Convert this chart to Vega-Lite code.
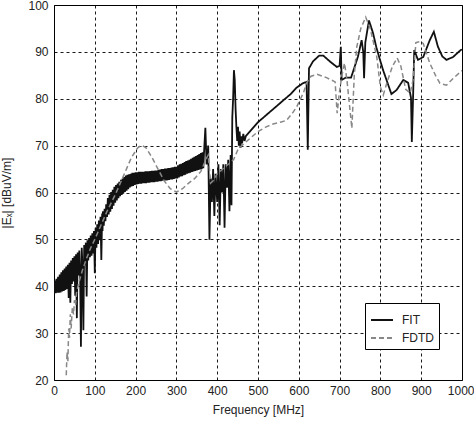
{
"$schema": "https://vega.github.io/schema/vega-lite/v6.json",
"width": 408, "height": 375,
"autosize": {"type": "none"},
"padding": {"left": 54, "top": 5, "right": 12, "bottom": 47},
"background": "white",
"config": {"view": {"stroke": "#000", "strokeWidth": 1}, "font": "Liberation Sans"},
"datasets": {
"fit": [
[0,38.5],[2,41.2],[4,38.5],[6,41.6],[8,38.6],[10,42.0],[12,38.6],[14,42.5],[16,38.7],[18,43.0],[20,38.9],[22,43.4],[24,39.0],[26,43.8],[28,39.2],[30,44.2],[32,39.4],[34,44.6],[36,37.5],[38,45.0],[40,36.5],[42,45.5],[44,40.5],[46,46.0],[48,41.0],[50,46.4],[52,38.0],[54,46.8],[56,33.2],[58,47.2],[60,42.3],[62,47.6],[64,42.5],[66,27.1],[68,48.2],[70,43.8],[72,30.6],[74,48.8],[76,44.5],[78,49.3],[80,37.8],[82,49.8],[84,45.5],[86,50.3],[88,46.2],[90,50.8],[92,46.5],[94,51.3],[96,47.0],[98,51.8],[100,42.8],[102,52.5],[104,48.2],[106,53.2],[108,49.0],[110,54.0],[112,49.8],[114,54.8],[116,45.6],[118,55.5],[119,51.8],
[120,56.0],[122,52.9],[124,56.5],[126,53.9],[128,57.5],[130,54.8],[132,58.8],[134,55.3],[136,59.5],[138,55.9],[140,60.1],[142,56.5],[144,60.6],[146,57.2],[148,61.2],[150,57.8],[152,61.6],[154,58.3],[156,61.9],[158,58.8],[160,62.3],[162,59.2],[164,62.7],[166,59.5],[168,63.0],[170,59.8],[172,63.3],[174,60.1],[176,63.6],[178,60.4],[180,63.8],[182,60.7],[184,63.9],[186,61.1],[188,64.0],[190,61.3],[192,64.2],[194,61.4],[196,64.2],[198,61.6],[200,64.3],[202,61.7],[204,64.3],[206,61.8],[208,64.4],[210,61.9],[212,64.4],[214,61.9],[216,64.4],[218,62.0],[220,64.4],[222,62.0],[224,64.5],[226,62.0],[228,64.5],[230,62.1],[232,64.5],[234,62.1],[236,64.6],[238,62.2],[240,64.6],[242,62.2],[244,64.6],[246,62.2],[248,64.7],[250,62.3],[252,64.7],[254,62.3],[256,64.8],[258,62.4],[260,64.9],[262,62.4],[264,65.0],[266,62.5],[268,65.0],[270,62.5],[272,65.1],[274,62.6],[276,65.1],[278,62.6],[280,65.2],[282,62.7],[284,65.2],[286,62.8],[288,65.3],[290,62.8],[292,65.4],[294,62.9],[296,65.5],[298,63.0],[300,65.5],[302,63.0],[304,65.8],[306,63.2],[308,66.0],[310,63.4],[312,66.1],[314,63.5],[316,66.3],[318,63.7],[320,66.5],[322,63.8],[324,66.7],[326,64.0],[328,66.8],[330,64.1],[332,67.0],[334,64.2],[336,67.2],[338,64.4],[340,67.4],[342,64.5],[344,67.6],[346,64.6],[348,67.8],[350,64.7],[352,68.0],[354,64.8],[356,68.2],[358,64.9],[360,68.4],[362,65.0],[364,68.6],[366,65.2],[368,69.0],
[371,73.8],[374,66],[378,70],[381,49.9],[384,63],[387,58],[390,65],[393,55],[396,64],[400,58],[403,66],[406,53],[409,65],[412,60],[415,66],[418,52.5],[421,66],[424,61],[427,67],[430,56],[433,68],[435,57.3],[437,76],[439,80],[441,86.1],[443,84],[445,78],[447,74],[449,71],[451,74],[453,70],[455,73],[457,69.5],[459,72],[461,70.5],[464,72.5],[467,71],[470,72],[480,73],[490,74],[500,75],[520,76.5],[540,78],[560,79.5],[580,81],[595,82.4],[610,83.3],[619,83.6],[622,69.1],[625,86.5],[635,88],[650,89.2],[660,89.2],[677,87.9],[693,86.8],[700,87],[703,91.1],[705,84],[715,84.5],[728,84.5],[733,85.8],[745,89],[754,92.5],[758,90],[760,84.4],[763,92],[772,96.7],[782,94],[790,91],[799,88.3],[807,86],[815,84],[827,81],[840,81.9],[856,84],[868,83.4],[875,80.2],[877,70.8],[880,80],[883,90.4],[892,88.3],[905,88.9],[921,92.5],[931,94.3],[941,91.1],[952,89],[962,88.3],[978,88.9],[997,90.4],[1000,90.5]
],
"fdtd": [
[30,21],[32,26],[34,24],[36,31],[38,29],[40,34],[42,31],[45,35.5],[48,34],[50,37],[53,36],[55,38.5],[60,40.5],[70,43.5],[80,46],[90,48.2],[100,50],[115,53],[130,56],[150,59.5],[170,63.5],[190,67.5],[205,69.5],[215,70.1],[225,69.6],[240,67.5],[255,65],[270,62.5],[285,60.8],[300,60.1],[315,60.8],[330,62],[345,63],[360,64.5],[372,67],[378,68],[384,62],[390,62.5],[400,64],[420,65.5],[440,67],[450,69],[460,70],[480,71.5],[500,73],[520,74],[537,74.6],[555,75],[570,75.4],[585,77],[595,78.3],[611,81.2],[620,83.5],[630,84.8],[645,85.2],[668,84.5],[689,83.6],[694,76.9],[699,81],[705,84.7],[712,87.6],[718,84],[725,78],[730,73.7],[736,85],[742,91],[752,95],[764,97.4],[775,95],[791,89],[800,82.5],[807,80.8],[818,84],[830,87],[841,88.7],[850,87],[862,82],[873,81.2],[880,84],[887,92],[897,92.2],[905,91.8],[921,87.6],[935,85],[946,83.3],[962,82.9],[978,84.3],[997,85.8],[1000,86]
]
},
"layer": [
{
"data": {"name": "fit"},
"transform": [{"calculate": "datum[0]", "as": "f"}, {"calculate": "datum[1]", "as": "e"}, {"calculate": "'FIT'", "as": "s"}],
"mark": {"type": "line", "strokeWidth": 1.8, "clip": true},
"encoding": {}
},
{
"data": {"name": "fdtd"},
"transform": [{"calculate": "datum[0]", "as": "f"}, {"calculate": "datum[1]", "as": "e"}, {"calculate": "'FDTD'", "as": "s"}],
"mark": {"type": "line", "strokeWidth": 1.5, "clip": true},
"encoding": {}
}
],
"encoding": {
"x": {"field": "f", "type": "quantitative", "scale": {"domain": [0, 1000], "nice": false},
"axis": {"values": [0,100,200,300,400,500,600,700,800,900,1000], "format": "d", "title": "Frequency [MHz]", "grid": true, "gridDash": [3,3], "gridColor": "#000", "gridOpacity": 0.9, "ticks": false, "domain": false, "labelFontSize": 12, "labelColor": "#222", "labelPadding": 5, "titleFontSize": 12, "titleFontWeight": "normal", "titleColor": "#222", "titlePadding": 8, "labelFlush": false,
"labelAlign": {"condition": {"test": "datum.value == 1000", "value": "right"}, "value": "center"},
"labelOffset": {"condition": {"test": "datum.value == 1000", "value": 12}, "value": 0}}},
"y": {"field": "e", "type": "quantitative", "scale": {"domain": [20, 100], "nice": false, "zero": false},
"axis": {"values": [20,30,40,50,60,70,80,90,100], "title": "|Eₓ| [dBuV/m]", "grid": true, "gridDash": [3,3], "gridColor": "#000", "gridOpacity": 0.9, "ticks": false, "domain": false, "labelFontSize": 12, "labelColor": "#222", "labelPadding": 6, "titleFontSize": 12, "titleFontWeight": "normal", "titleColor": "#222", "titlePadding": 14}},
"color": {"field": "s", "type": "nominal", "scale": {"domain": ["FIT", "FDTD"], "range": ["#111111", "#888888"]},
"legend": {"title": null, "orient": "none", "legendX": 311, "legendY": 298, "symbolType": "stroke", "symbolSize": 484, "symbolStrokeWidth": 2, "strokeColor": "#000", "fillColor": "white", "padding": 5, "labelFontSize": 12, "labelColor": "#222", "rowPadding": 0, "labelOffset": 8}},
"strokeDash": {"field": "s", "type": "nominal", "scale": {"domain": ["FIT", "FDTD"], "range": [[1,0],[5,3]]}, "legend": null}
}
}
